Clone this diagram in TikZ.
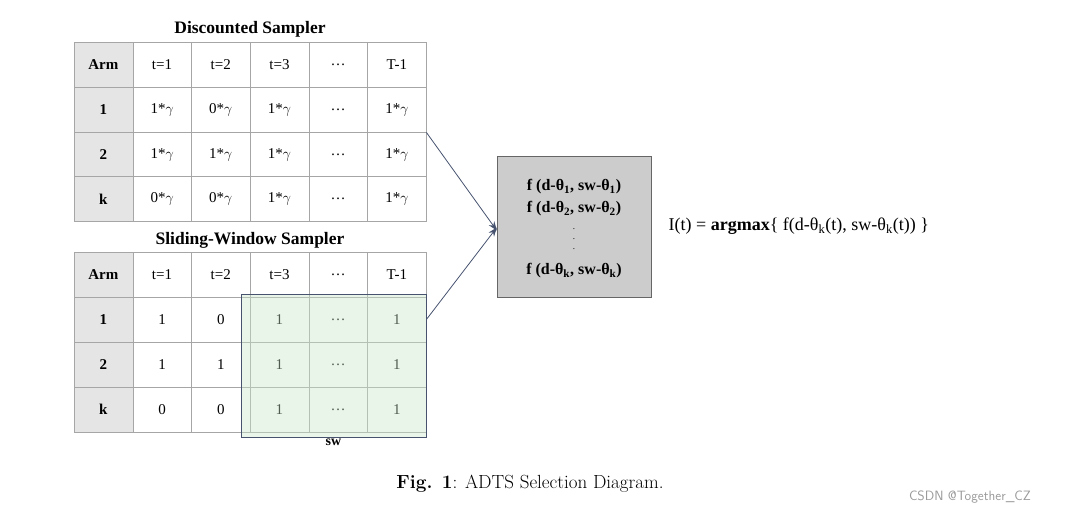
\documentclass[tikz,border=0pt]{standalone}
\usepackage{fontspec}
\newfontfamily\tms{Liberation Serif}
\usetikzlibrary{arrows.meta, positioning}
\definecolor{slate}{RGB}{70,82,110}
\begin{document}
\begin{tikzpicture}
	[%
	x=1pt, y=-1pt,
	cell/.style  ={rectangle,	draw=black!35,	fill=white,	inner sep=0pt,	minimum width=58.7pt,	minimum height=44.8pt,	font=\tms\fontsize{15}{16}\selectfont},%
	head/.style  ={cell,	fill=black!10,	font=\tms\bfseries\fontsize{15}{16}\selectfont},%
	title/.style ={font=\tms\bfseries\fontsize{17.5}{19}\selectfont},%
	feed/.style  ={draw=slate,	thick,	-{Stealth[length=9pt]}},%
	]
	\useasboundingbox (0,0) rectangle (1082,515);

	% titles
	\node (dtitle) at (250,29)  [title] {Discounted Sampler};
	\node (stitle) at (250,240) [title] {Sliding-Window Sampler};

	% discounted table
	\foreach \c/\txt in {1/t=1,2/t=2,3/t=3,4/\dots,5/T-1} \node (d0\c) at (74+29.35+58.7*\c,65) [cell] {\txt};
	\foreach \r/\y/\a in {0/65/Arm,1/110/1,2/155/2,3/199/k} \node (d\r0) at (103.35,\y) [head] {\a};
	\foreach \r/\y/\va/\vb/\vc in {1/110/1/0/1,2/155/1/1/1,3/199/0/0/1}{%
		\node (d\r1) at (162.05,\y) [cell] {\va*$\gamma$};
		\node (d\r2) at (220.75,\y) [cell] {\vb*$\gamma$};
		\node (d\r3) at (279.45,\y) [cell] {\vc*$\gamma$};
		\node (d\r4) at (338.15,\y) [cell] {\dots};
		\node (d\r5) at (396.85,\y) [cell] {1*$\gamma$};
	}

	% sliding-window table
	\foreach \c/\txt in {1/t=1,2/t=2,3/t=3,4/\dots,5/T-1} \node (s0\c) at (74+29.35+58.7*\c,274.5) [cell] {\txt};
	\foreach \r/\y/\a in {0/274.5/Arm,1/319.5/1,2/364.5/2,3/409.5/k} \node (s\r0) at (103.35,\y) [head] {\a};
	\foreach \r/\y/\va/\vb in {1/319.5/1/0,2/364.5/1/1,3/409.5/0/0}{%
		\node (s\r1) at (162.05,\y) [cell] {\va};
		\node (s\r2) at (220.75,\y) [cell] {\vb};
		\node (s\r3) at (279.45,\y) [cell] {1};
		\node (s\r4) at (338.15,\y) [cell] {\dots};
		\node (s\r5) at (396.85,\y) [cell] {1};
	}

	% window
	\node (win) [draw=slate, thick, fill=green!40!gray!30, fill opacity=0.4, draw opacity=1, inner sep=0pt, minimum width=185pt, minimum height=143pt] at (333.5,365.5) {};
	\node (swlabel) [below=-2pt of win, font=\tms\bfseries\fontsize{14}{16}\selectfont] {sw};

	% scores
	\node (score) at (574,226.5) [draw=black!60, fill=black!20, inner sep=0pt, minimum width=154pt, minimum height=141pt] {};
	\node (f1) at (574,187) [font=\tms\bfseries\fontsize{16}{18}\selectfont] {f (d-θ\textsubscript{1}, sw-θ\textsubscript{1})};
	\node (f2) at (574,209) [font=\tms\bfseries\fontsize{16}{18}\selectfont] {f (d-θ\textsubscript{2}, sw-θ\textsubscript{2})};
	\foreach \y in {229,239,249} \node (dot\y) at (574,\y) [inner sep=0pt, font=\tms\fontsize{9}{9}\selectfont] {.};
	\node (fk) at (574,271) [font=\tms\bfseries\fontsize{16}{18}\selectfont] {f (d-θ\textsubscript{k}, sw-θ\textsubscript{k})};
	\node (rule) [right=14pt of score, font=\tms\fontsize{18}{20}\selectfont]
		{I(t) = \textbf{argmax}\{ f(d-θ\textsubscript{k}(t), sw-θ\textsubscript{k}(t)) \}};

	% feeds
	\draw [feed] (d25.north east) -- ([yshift=-4pt]score.west);
	\draw [feed] (win.north east |- s15.center) -- ([yshift=-1pt]score.west);

	% caption
	\node (caption) at (530,484) [font=\fontsize{19}{22}\selectfont] {\textbf{Fig. 1}: ADTS Selection Diagram.};
	\node (mark) at (970,497) [text=black!40, font=\sffamily\fontsize{13.5}{15}\selectfont] {CSDN @Together\_CZ};
\end{tikzpicture}
\end{document}
